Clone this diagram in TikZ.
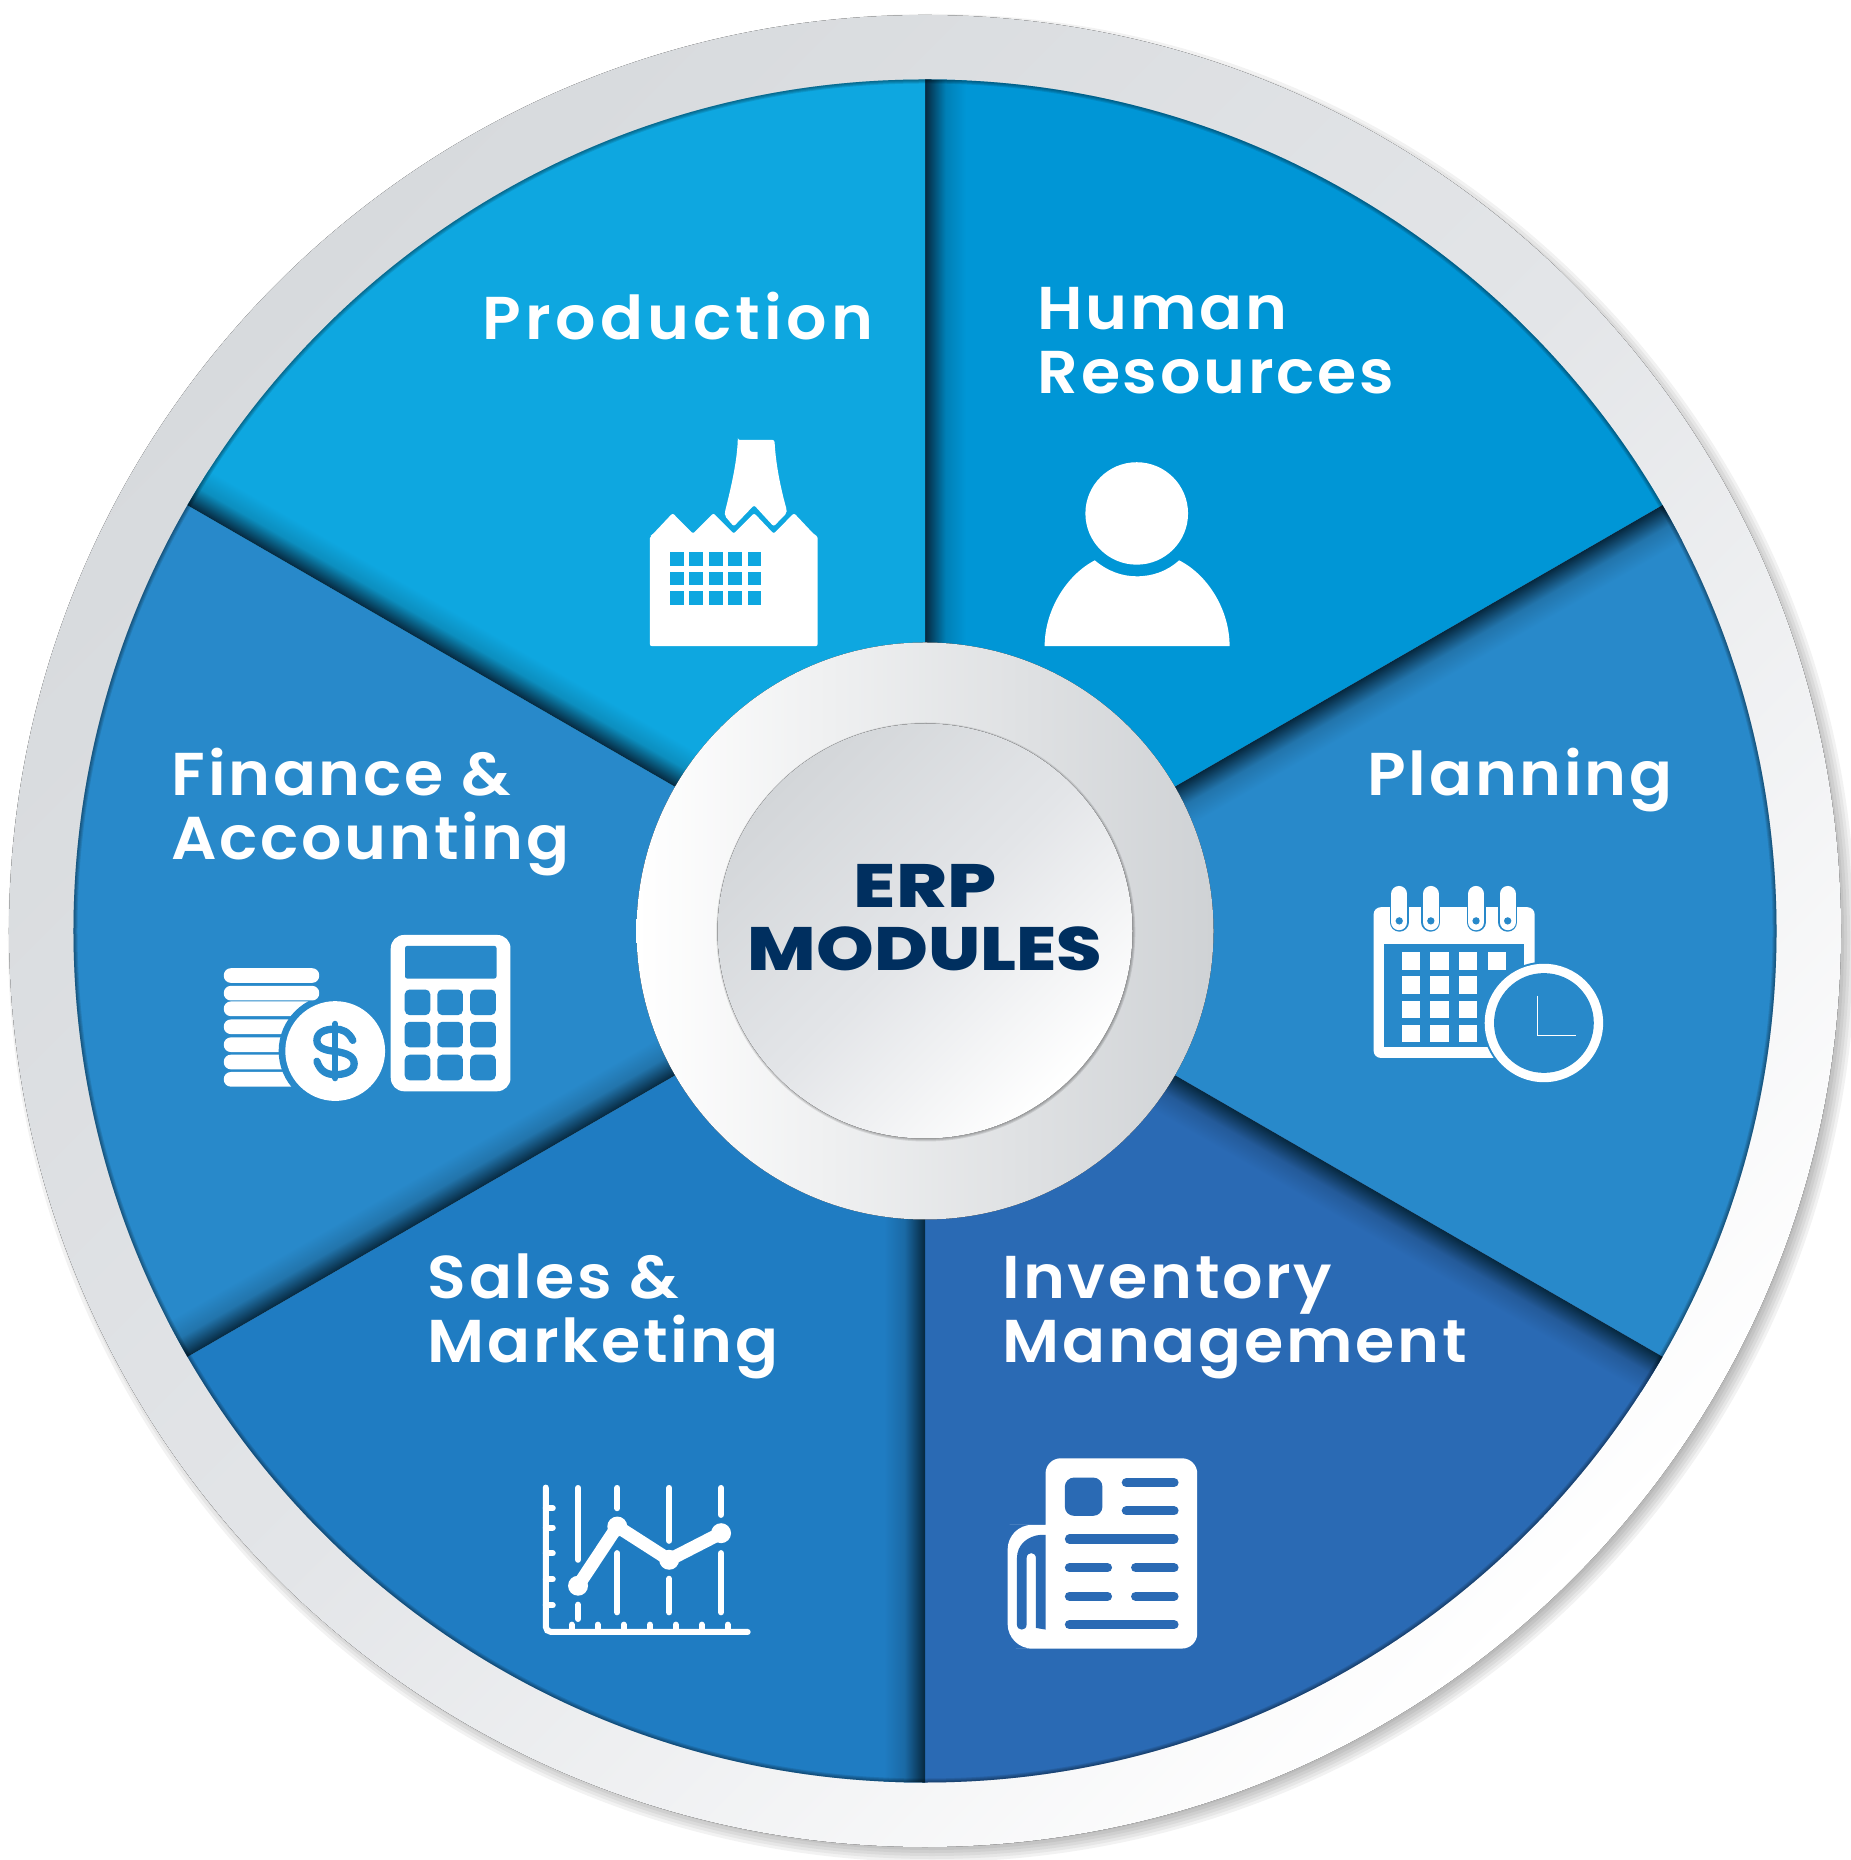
\documentclass[tikz,border=0pt]{standalone}
\usepackage{fontspec}
\newfontfamily\labelfont{Poppins}[UprightFont=* SemiBold,FakeStretch=1.05,LetterSpace=4.5]
\newfontfamily\titlefont{Poppins}[UprightFont=* ExtraBold,FakeStretch=1.2]
\definecolor{prodblue}{HTML}{0EA7E0}
\definecolor{hrblue}{HTML}{0096D6}
\definecolor{planblue}{HTML}{2889CA}
\definecolor{invblue}{HTML}{2A6AB4}
\definecolor{salesblue}{HTML}{1F7CC2}
\definecolor{finblue}{HTML}{2889CA}
\definecolor{edgedark}{HTML}{06283F}
\definecolor{navytext}{HTML}{002F5F}
\definecolor{ringtop}{HTML}{D7DADD}
\definecolor{ringmid}{HTML}{E3E5E8}
\definecolor{hubright}{HTML}{CFD2D5}
\definecolor{disctop}{HTML}{D3D6D9}
\tikzset{
  modlabel/.style={text=white,align=left,anchor=base west,inner sep=0pt,font=\labelfont\fontsize{17.2}{18.1}\selectfont},
  erplabel/.style={text=navytext,anchor=base,inner sep=0pt,font=\titlefont\fontsize{17.4}{18}\selectfont},
  iconxy/.style={x=0.003333cm,y=-0.003333cm}
}
\begin{document}
\begin{tikzpicture}
\useasboundingbox (-9.25,-9.29) rectangle (9.25,9.31);

\foreach \r in {9.09,9.12,9.15,9.18,9.21,9.24}
  \fill[black,opacity=.05] (0.07,-0.07) circle (\r);
\fill[top color=ringtop,bottom color=white,middle color=ringmid,shading angle=45] (0,0) circle (9.16);

\begin{scope}
\clip (0,0) circle (8.515);
\foreach \a/\c in {90/hrblue,30/planblue,-30/invblue,-90/salesblue,-150/finblue,150/prodblue} {
  \fill[\c] (0,0) -- (\a:8.6) arc[start angle=\a,delta angle=-60,radius=8.6] -- cycle;
  \begin{scope}[transform canvas={rotate=\a}]
    \shade[top color=edgedark,bottom color=\c,middle color=\c!85!black] (0,0) rectangle (8.6,-0.41);
  \end{scope}
}
\foreach \w in {0.02,0.04,0.06,0.08}
  \draw[black,opacity=.1,line width=\w cm] (0,0) circle (8.515);
\end{scope}

\fill[left color=white,right color=hubright] (0,0) circle (2.885);
\foreach \r in {2.075,2.085,2.095}
  \fill[black,opacity=.1] (0.008,-0.01) circle (\r);
\fill[top color=disctop,bottom color=white,middle color=ringmid,shading angle=45] (0,0) circle (2.075);

\node[modlabel] (v1) at (-4.43,5.91) {\addfontfeature{LetterSpace=7}Production};
\node[modlabel] (v2) at (1.12,5.375) {Human\\Resources};
\node[modlabel] (v3) at (4.42,1.35) {Planning};
\node[modlabel] (v4) at (0.77,-4.315) {Inventory\\Management};
\node[modlabel] (v5) at (-4.98,-4.315) {Sales \&\\Marketing};
\node[modlabel] (v6) at (-7.54,0.715) {Finance \&\\Accounting};
\node[erplabel] (v7) at (0,0.23) {\addfontfeature{FakeStretch=1.26}ERP};
\node[erplabel] (v8) at (0,-0.40) {MODULES};

% factory
\begin{scope}[shift={(-3.045,5.11)},x=0.00408cm,y=-0.003333cm]
\fill[white,rounded corners=0.6pt] (72,680) -- (72,350) -- (78,345) -- (128,280) -- (178,342) -- (228,280) -- (278,342) -- (328,280) -- (376,342) -- (426,280) -- (476,345) -- (484,350) -- (484,680) -- cycle;
\fill[white,rounded corners=0.6pt] (288,60) -- (378,60) .. controls (381,130) and (392,200) .. (408,270) -- (408,280) -- (376,320) -- (328,256) -- (278,320) -- (256,288) -- (256,278) .. controls (272,200) and (285,130) .. (288,60) -- cycle;
\foreach \x in {121,169,217,264,312}
  \foreach \y in {398,456,514}
    \fill[prodblue] (\x,\y) rectangle ++(34,41);
\end{scope}

% person
\begin{scope}[shift={(-3.04,5.11)},x=0.00408cm,y=-0.003333cm]
\fill[white] (1266,281) ellipse [x radius=126,y radius=154];
\fill[white] (1040,680) .. controls (1040,570) and (1095,465) .. (1163,422) .. controls (1195,455) and (1230,470) .. (1266,470) .. controls (1305,470) and (1340,455) .. (1370,422) .. controls (1440,465) and (1494,570) .. (1494,680) -- cycle;
\end{scope}

% coins and calculator
\begin{scope}[shift={(-7.245,0.11)},iconxy]
\foreach \y in {245,299,353,405,457}
  \fill[white,rounded corners=2pt] (70,\y) rectangle (345,\y+44);
\fill[finblue] (405,394) circle [radius=170];
\fill[white] (405,394) circle [radius=150];
\foreach \y in {145,198}
  \fill[white,rounded corners=2pt] (70,\y) rectangle (357,\y+44);
\draw[finblue,line width=0.073cm,line cap=round] (458,362) .. controls (445,335) and (425,328) .. (405,328) .. controls (370,328) and (350,340) .. (350,362) .. controls (350,385) and (375,392) .. (405,395) .. controls (440,400) and (462,410) .. (462,432) .. controls (462,455) and (435,465) .. (405,465) .. controls (380,465) and (360,455) .. (350,425);
\draw[finblue,line width=0.06cm,line cap=round] (405,312) -- (405,476);
\fill[white,rounded corners=3.8pt] (572,45) rectangle (932,515);
\fill[finblue,rounded corners=0.6pt] (615,78) rectangle (890,176);
\foreach \x in {614,712,811}
  \foreach \y in {209,306,405}
    \fill[finblue,rounded corners=1.4pt] (\x,\y) rectangle ++(77,77);
\end{scope}

% calendar
\begin{scope}[shift={(4.26,0.61)},iconxy]
\fill[white,rounded corners=2pt] (68,112) rectangle (552,565);
\fill[planblue] (100,222) rectangle (520,533);
\foreach \x in {152,238,324}
  \foreach \y in {248,320,393,465}
    \fill[white] (\x,\y) rectangle ++(56,53);
\fill[white] (411,248) rectangle ++(56,53);
\foreach \x in {145,240,376,471} {
  \draw[planblue,line width=0.19cm,line cap=round] (\x,72) -- (\x,157);
  \draw[white,line width=0.16cm,line cap=round] (\x,72) -- (\x,157);
  \fill[planblue] (\x,153) circle [radius=11];
}
\fill[planblue] (580,460) circle [radius=184];
\fill[white] (580,460) circle [radius=178];
\fill[planblue] (580,460) circle [radius=150];
\draw[white,line width=0.2pt] (561,378) -- (561,498) -- (675,498);
\end{scope}

% chart
\begin{scope}[shift={(-4.045,-5.29)},iconxy]
\draw[white,line width=0.06cm,line cap=round,rounded corners=1.5pt] (76,83) -- (76,517) -- (683,517);
\foreach \y in {145,203,281,359,437}
  \draw[white,line width=0.06cm,line cap=round] (76,\y) -- (97,\y);
\foreach \x in {154,232,310,389,467,545,623}
  \draw[white,line width=0.06cm,line cap=round] (\x,517) -- (\x,495);
\foreach \x/\ya/\yb/\yc/\yd in {173/84/300/435/478,291/84/145/280/458,447/84/243/357/458,603/84/165/280/458} {
  \draw[white,line width=0.06cm,line cap=round] (\x,\ya) -- (\x,\yb);
  \draw[white,line width=0.06cm,line cap=round] (\x,\yc) -- (\x,\yd);
}
\draw[white,line width=0.13cm,line join=round] (173,378) -- (291,200) -- (447,300) -- (603,220);
\foreach \x/\y in {173/378,291/200,447/300,603/220}
  \fill[white] (\x,\y) circle [radius=30];
\end{scope}

% newspaper
\begin{scope}[shift={(0.66,-5.09)},iconxy]
\fill[white] (164,255) -- (164,150) [rounded corners=4.3pt] -- (164,55) -- (620,55) -- (620,627) -- (120,627) [rounded corners=7pt] -- (50,627) -- (50,255) -- (130,255) [sharp corners] -- cycle;
\fill[invblue] (164,285) -- (150,285) .. controls (110,288) and (78,315) .. (78,355) -- (78,555) .. controls (78,575) and (107,575) .. (107,555) -- (107,355) .. controls (107,335) and (135,335) .. (135,355) -- (135,565) -- (164,570) -- cycle;
\fill[invblue,rounded corners=2.6pt] (222,113) rectangle (335,228);
\foreach \xa/\xb/\y in {407/550/128,407/550/213,236/550/298,236/350/384,435/550/384,236/350/470,435/550/470,236/550/555}
  \draw[invblue,line width=0.093cm,line cap=round] (\xa,\y) -- (\xb,\y);
\end{scope}
\end{tikzpicture}
\end{document}
